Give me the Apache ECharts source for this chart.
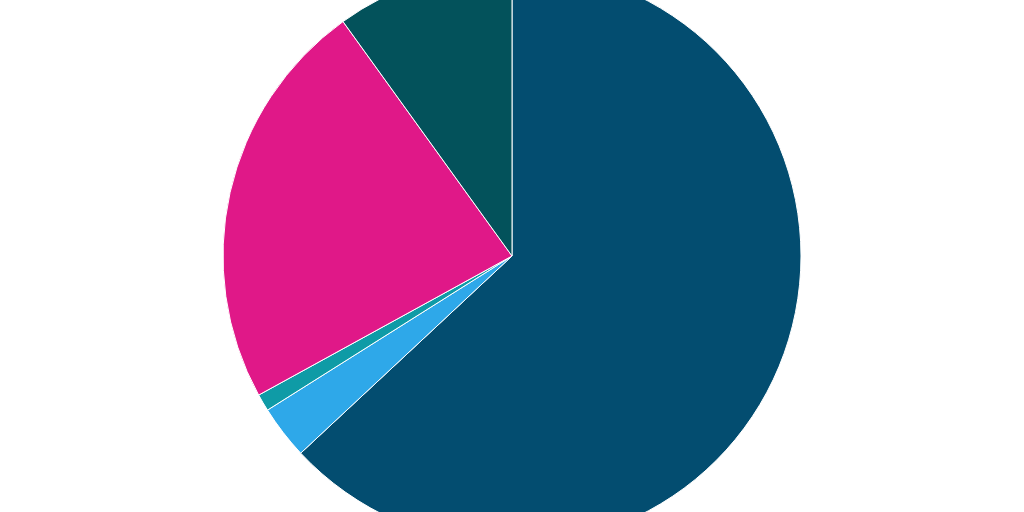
<!DOCTYPE html>
<html>
<head>
    <meta charset="utf-8">
    <title>pie</title>
    <script src="https://cdn.jsdelivr.net/npm/echarts@6/dist/echarts.min.js"></script>
    <style>
        html, body { margin: 0; padding: 0; background: #fff; }
        #chart { width: 1024px; height: 512px; }
    </style>
</head>
<body>
<div id="chart"></div>
<script>
    // slice names and values, clockwise from 12 o'clock
    var names = ['A', 'B', 'C', 'D', 'E'];
    var values = [63.05, 3.0, 0.96, 23.05, 9.94];
    var colors = ['#034d70', '#2ea8e9', '#0f9ba6', '#e01888', '#03525b'];

    var chart = echarts.init(document.getElementById('chart'));
    var seriesData = [];
    for (var i = 0; i < values.length; i++) {
        seriesData.push({ name: names[i], value: values[i], itemStyle: { color: colors[i] } });
    }
    chart.setOption({
        animation: false,
        series: [{
            type: 'pie',
            center: [512, 256],
            radius: [0, 289],
            startAngle: 90,
            clockwise: true,
            label: { show: false },
            labelLine: { show: false },
            itemStyle: { borderColor: '#ffffff', borderWidth: 1 },
            emphasis: { disabled: true },
            data: seriesData
        }]
    });
</script>
</body>
</html>
